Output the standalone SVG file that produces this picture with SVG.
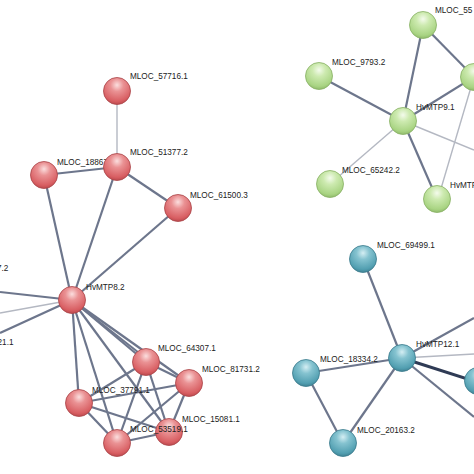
<svg xmlns="http://www.w3.org/2000/svg" width="474" height="474" viewBox="0 0 474 474">
<defs>
<radialGradient id="gr" cx="0.5" cy="0.28" r="0.8">
<stop offset="0" stop-color="#fbdede"/><stop offset="0.3" stop-color="#ea9294"/><stop offset="0.75" stop-color="#d85e62"/><stop offset="1" stop-color="#a83a3f"/>
</radialGradient>
<radialGradient id="gg" cx="0.5" cy="0.28" r="0.8">
<stop offset="0" stop-color="#f4fbec"/><stop offset="0.3" stop-color="#cdeab0"/><stop offset="0.75" stop-color="#a9d483"/><stop offset="1" stop-color="#7fa95a"/>
</radialGradient>
<radialGradient id="gb" cx="0.5" cy="0.28" r="0.8">
<stop offset="0" stop-color="#d4eef3"/><stop offset="0.3" stop-color="#85c3d0"/><stop offset="0.75" stop-color="#529fb1"/><stop offset="1" stop-color="#336f80"/>
</radialGradient>
</defs>
<style>
.e{stroke:#6d768c;stroke-width:2.2;fill:none}
.t{stroke:#b4b8c2;stroke-width:1.4;fill:none}
.k{stroke:#2f3b55;stroke-width:3;fill:none}
.r{fill:url(#gr);stroke:#a84448;stroke-width:0.8}
.g{fill:url(#gg);stroke:#88b064;stroke-width:0.8}
.b{fill:url(#gb);stroke:#3a7a8c;stroke-width:0.8}
text{font-family:"Liberation Sans",Arial,sans-serif;font-size:8.2px;fill:#222}
</style>
<g id="connectors">
<line class="t" x1="117" y1="91" x2="117" y2="167"/>
<line class="e" x1="44" y1="175" x2="117" y2="167"/>
<line class="e" x1="117" y1="167" x2="178" y2="208"/>
<line class="e" x1="44" y1="175" x2="72" y2="300"/>
<line class="e" x1="117" y1="167" x2="72" y2="300"/>
<line class="e" x1="178" y1="208" x2="72" y2="300"/>
<line class="e" x1="72" y1="300" x2="0" y2="292"/>
<line class="t" x1="72" y1="300" x2="0" y2="313"/>
<line class="e" x1="72" y1="300" x2="0" y2="333"/>
<line class="e" x1="72" y1="300" x2="146" y2="362"/>
<line class="e" x1="74" y1="302" x2="148" y2="360"/>
<line class="e" x1="72" y1="300" x2="189" y2="383"/>
<line class="e" x1="72" y1="300" x2="79" y2="403"/>
<line class="e" x1="72" y1="300" x2="169" y2="432"/>
<line class="e" x1="72" y1="300" x2="117" y2="443"/>
<line class="e" x1="146" y1="362" x2="189" y2="383"/>
<line class="e" x1="146" y1="362" x2="79" y2="403"/>
<line class="e" x1="146" y1="362" x2="169" y2="432"/>
<line class="e" x1="146" y1="362" x2="117" y2="443"/>
<line class="e" x1="189" y1="383" x2="79" y2="403"/>
<line class="e" x1="189" y1="383" x2="169" y2="432"/>
<line class="e" x1="189" y1="383" x2="117" y2="443"/>
<line class="e" x1="79" y1="403" x2="169" y2="432"/>
<line class="e" x1="79" y1="403" x2="117" y2="443"/>
<line class="e" x1="117" y1="443" x2="169" y2="432"/>
<line class="e" x1="403" y1="121" x2="423" y2="25"/>
<line class="e" x1="423" y1="25" x2="474" y2="77"/>
<line class="e" x1="403" y1="121" x2="474" y2="77"/>
<line class="e" x1="403" y1="121" x2="319" y2="76"/>
<line class="t" x1="403" y1="121" x2="330" y2="184"/>
<line class="e" x1="403" y1="121" x2="437" y2="199"/>
<line class="t" x1="403" y1="121" x2="474" y2="150"/>
<line class="t" x1="474" y1="77" x2="440" y2="192"/>
<line class="e" x1="402" y1="358" x2="363" y2="259"/>
<line class="e" x1="402" y1="358" x2="306" y2="373"/>
<line class="e" x1="402" y1="358" x2="343" y2="443"/>
<line class="e" x1="306" y1="373" x2="343" y2="443"/>
<line class="e" x1="402" y1="358" x2="474" y2="318"/>
<line class="t" x1="402" y1="358" x2="474" y2="354"/>
<line class="k" x1="402" y1="358" x2="474" y2="381"/>
<line class="e" x1="402" y1="358" x2="474" y2="417"/>
</g>
<g id="n_MLOC_57716.1"><circle class="r" cx="117" cy="91" r="13.5"/><text x="130" y="79">MLOC_57716.1</text></g>
<g id="n_MLOC_18867"><text x="57" y="165">MLOC_18867</text><circle class="r" cx="44" cy="175" r="13.5"/></g>
<g id="n_MLOC_51377.2"><circle class="r" cx="117" cy="167" r="13.5"/><text x="130" y="155">MLOC_51377.2</text></g>
<g id="n_MLOC_61500.3"><circle class="r" cx="178" cy="208" r="13.5"/><text x="190" y="198">MLOC_61500.3</text></g>
<g id="n_HvMTP8.2"><circle class="r" cx="72" cy="300" r="13.5"/><text x="86" y="290">HvMTP8.2</text></g>
<g id="n_left1"><text x="-3" y="271">7.2</text></g>
<g id="n_left2"><text x="-7" y="345">721.1</text></g>
<g id="n_MLOC_64307.1"><circle class="r" cx="146" cy="362" r="13.5"/><text x="158" y="351">MLOC_64307.1</text></g>
<g id="n_MLOC_81731.2"><circle class="r" cx="189" cy="383" r="13.5"/><text x="202" y="372">MLOC_81731.2</text></g>
<g id="n_MLOC_37791.1"><text x="92" y="393">MLOC_37791.1</text><circle class="r" cx="79" cy="403" r="13.5"/></g>
<g id="n_MLOC_15081.1"><circle class="r" cx="169" cy="432" r="13.5"/><text x="182" y="422">MLOC_15081.1</text></g>
<g id="n_MLOC_53519.1"><circle class="r" cx="117" cy="443" r="13.5"/><text x="130" y="432">MLOC_53519.1</text></g>
<g id="n_MLOC_55"><circle class="g" cx="423" cy="25" r="13.5"/><text x="435" y="13">MLOC_55</text></g>
<g id="n_green_right"><circle class="g" cx="474" cy="77" r="13.5"/></g>
<g id="n_MLOC_9793.2"><circle class="g" cx="319" cy="76" r="13.5"/><text x="332" y="65">MLOC_9793.2</text></g>
<g id="n_HvMTP9.1"><circle class="g" cx="403" cy="121" r="13.5"/><text x="416" y="110">HvMTP9.1</text></g>
<g id="n_MLOC_65242.2"><circle class="g" cx="330" cy="184" r="13.5"/><text x="342" y="173">MLOC_65242.2</text></g>
<g id="n_HvMTP"><circle class="g" cx="437" cy="199" r="13.5"/><text x="450" y="188">HvMTP</text></g>
<g id="n_MLOC_69499.1"><circle class="b" cx="363" cy="259" r="13.5"/><text x="377" y="248">MLOC_69499.1</text></g>
<g id="n_MLOC_18334.2"><circle class="b" cx="306" cy="373" r="13.5"/><text x="320" y="362">MLOC_18334.2</text></g>
<g id="n_HvMTP12.1"><circle class="b" cx="402" cy="358" r="13.5"/><text x="416" y="347">HvMTP12.1</text></g>
<g id="n_blue_right"><circle class="b" cx="478" cy="381" r="13.5"/></g>
<g id="n_MLOC_20163.2"><circle class="b" cx="343" cy="443" r="13.5"/><text x="357" y="433">MLOC_20163.2</text></g>
</svg>
